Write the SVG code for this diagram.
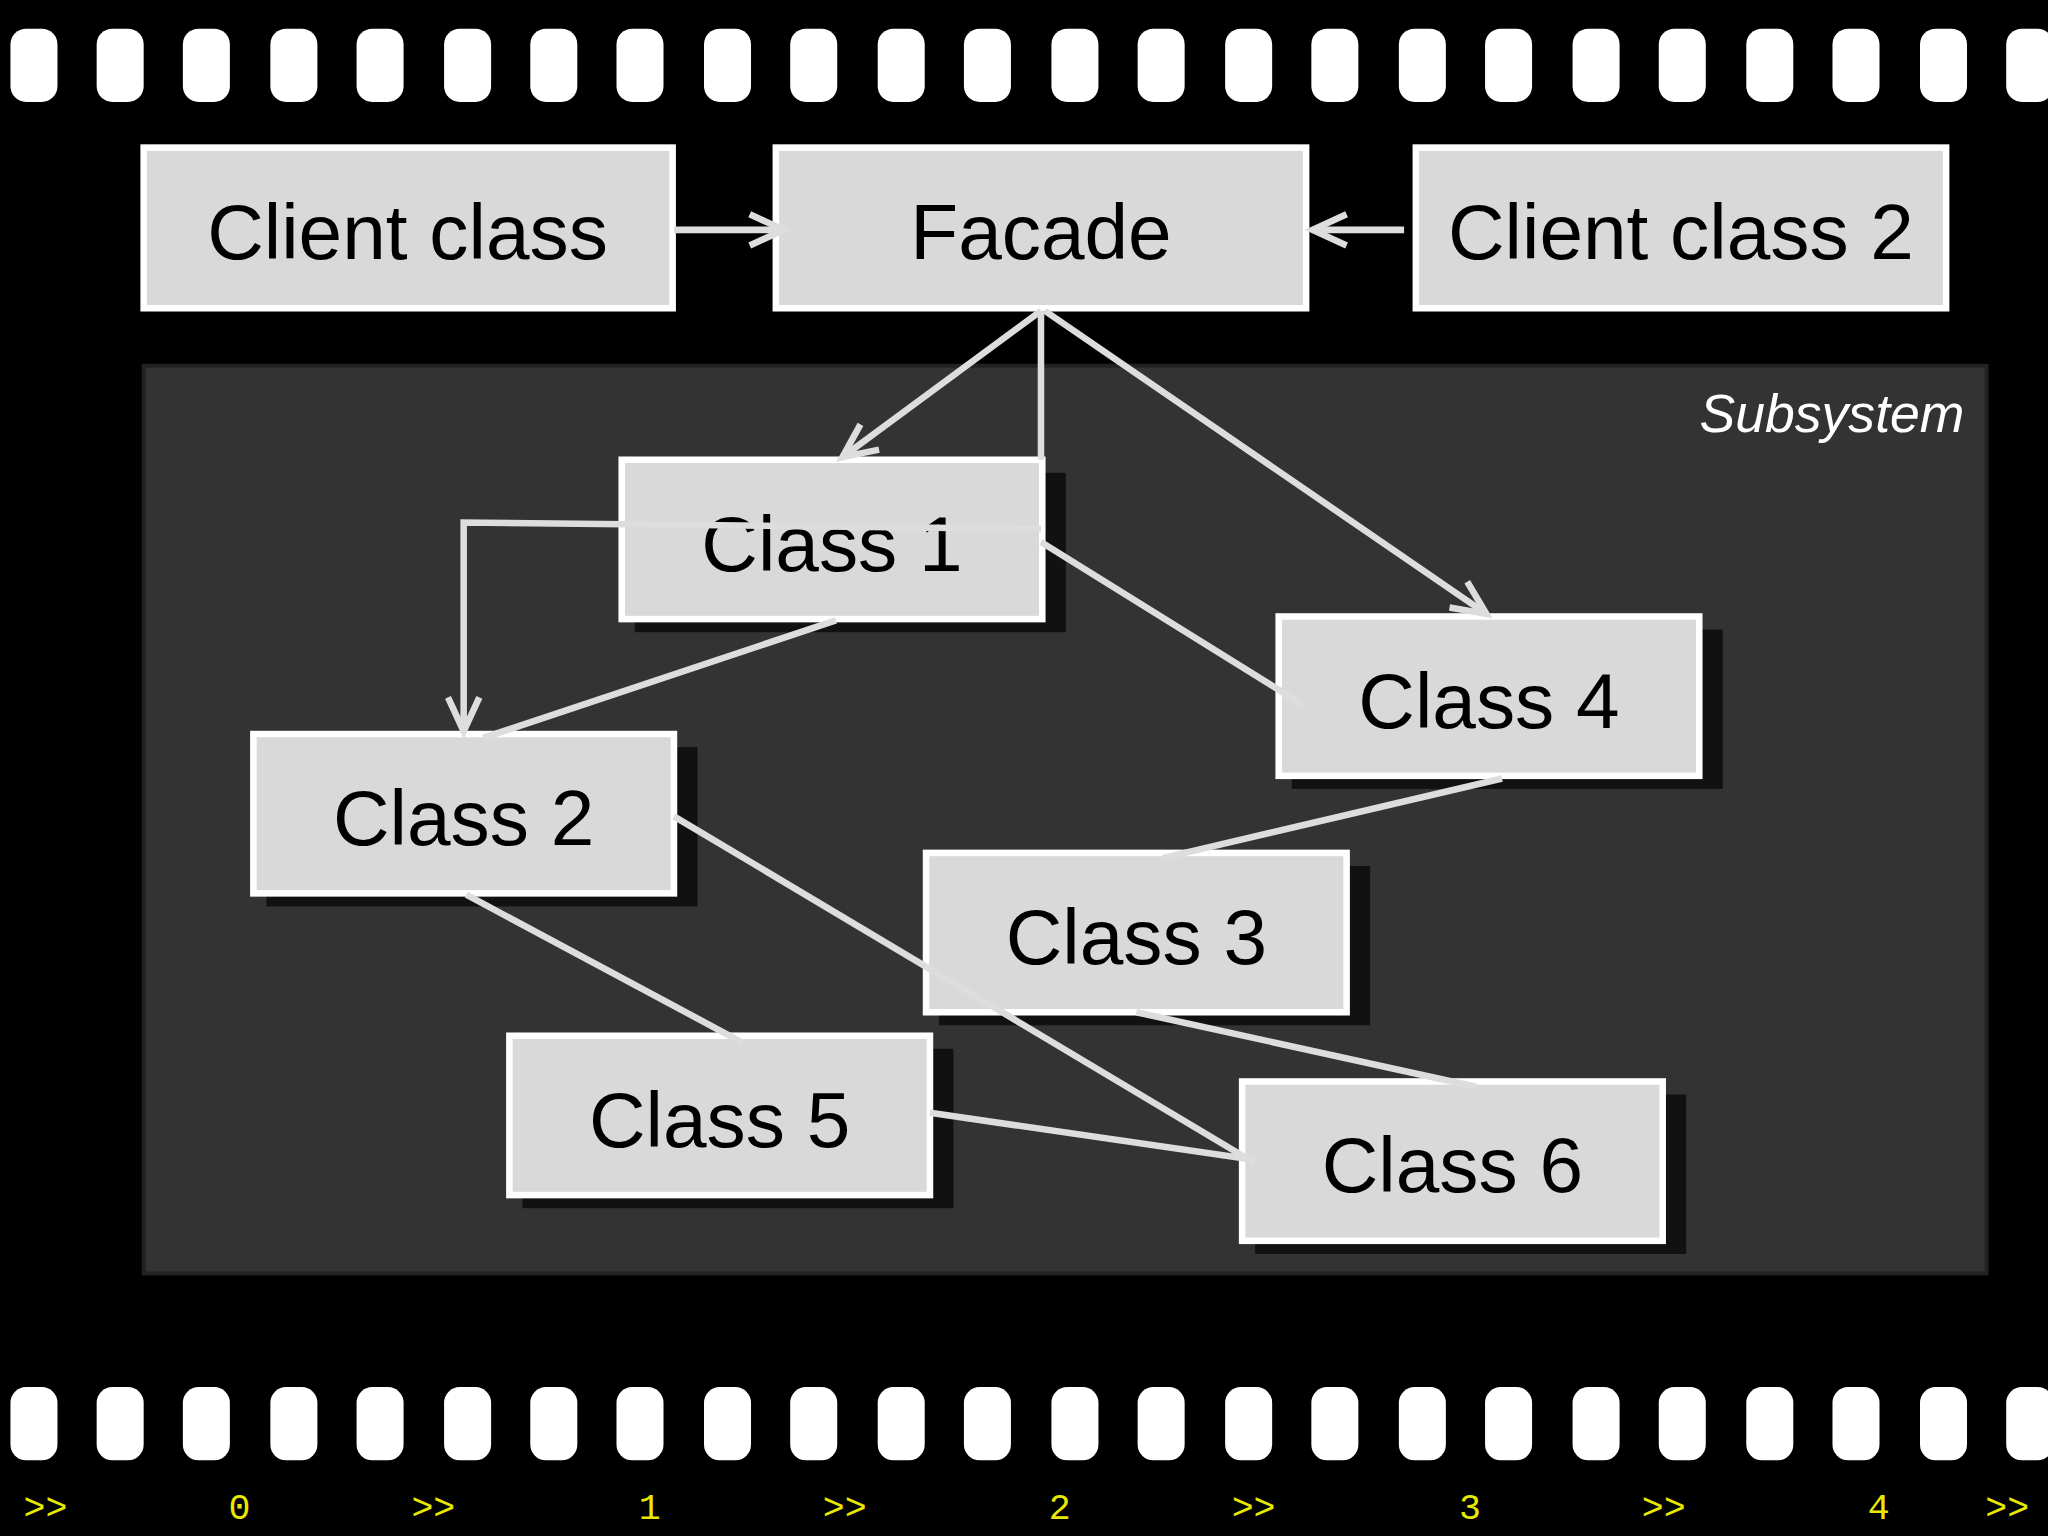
<svg xmlns="http://www.w3.org/2000/svg" width="2048" height="1536" viewBox="0 0 2048 1536">
<defs>
<style>
.hole{fill:#fff}
.box{fill:#d9d9d9;stroke:#fff;stroke-width:5}
.sh{fill:#111}
.lbl{font-family:"Liberation Sans",Arial,sans-serif;font-size:60px;fill:#000;text-anchor:middle}
.ln{stroke:#ddd;stroke-width:5;fill:none}
.ft{font-family:"Liberation Mono",monospace;font-size:28px;fill:#e8e800}
</style>
<marker id="arb" markerWidth="36" markerHeight="36" refX="30" refY="18" orient="auto" markerUnits="userSpaceOnUse" viewBox="0 0 36 36"><path d="M4,6 L30,18 L4,30" fill="none" stroke="#ddd" stroke-width="5"/></marker>
<rect id="h" width="36" height="56" rx="12" class="hole"/>
</defs>
<rect width="2048" height="1536" fill="#000"/>
<g transform="scale(1.30612)">
<g id="film">
<use href="#h" x="8" y="22"/><use href="#h" x="74" y="22"/><use href="#h" x="140" y="22"/><use href="#h" x="207" y="22"/><use href="#h" x="273" y="22"/><use href="#h" x="340" y="22"/><use href="#h" x="406" y="22"/><use href="#h" x="472" y="22"/><use href="#h" x="539" y="22"/><use href="#h" x="605" y="22"/><use href="#h" x="672" y="22"/><use href="#h" x="738" y="22"/><use href="#h" x="805" y="22"/><use href="#h" x="871" y="22"/><use href="#h" x="938" y="22"/><use href="#h" x="1004" y="22"/><use href="#h" x="1071" y="22"/><use href="#h" x="1137" y="22"/><use href="#h" x="1204" y="22"/><use href="#h" x="1270" y="22"/><use href="#h" x="1337" y="22"/><use href="#h" x="1403" y="22"/><use href="#h" x="1470" y="22"/><use href="#h" x="1536" y="22"/>
<use href="#h" x="8" y="1062"/><use href="#h" x="74" y="1062"/><use href="#h" x="140" y="1062"/><use href="#h" x="207" y="1062"/><use href="#h" x="273" y="1062"/><use href="#h" x="340" y="1062"/><use href="#h" x="406" y="1062"/><use href="#h" x="472" y="1062"/><use href="#h" x="539" y="1062"/><use href="#h" x="605" y="1062"/><use href="#h" x="672" y="1062"/><use href="#h" x="738" y="1062"/><use href="#h" x="805" y="1062"/><use href="#h" x="871" y="1062"/><use href="#h" x="938" y="1062"/><use href="#h" x="1004" y="1062"/><use href="#h" x="1071" y="1062"/><use href="#h" x="1137" y="1062"/><use href="#h" x="1204" y="1062"/><use href="#h" x="1270" y="1062"/><use href="#h" x="1337" y="1062"/><use href="#h" x="1403" y="1062"/><use href="#h" x="1470" y="1062"/><use href="#h" x="1536" y="1062"/>
<text class="ft" x="18" y="1163">&gt;&gt;</text><text class="ft" x="175" y="1163">0</text><text class="ft" x="315" y="1163">&gt;&gt;</text><text class="ft" x="489" y="1163">1</text><text class="ft" x="630" y="1163">&gt;&gt;</text><text class="ft" x="803" y="1163">2</text><text class="ft" x="943" y="1163">&gt;&gt;</text><text class="ft" x="1117" y="1163">3</text><text class="ft" x="1257" y="1163">&gt;&gt;</text><text class="ft" x="1430" y="1163">4</text><text class="ft" x="1520" y="1163">&gt;&gt;</text>
</g>
<g id="subsystem">
<rect x="110" y="280" width="1411" height="695" fill="#333" stroke="#222" stroke-width="3"/>
<text x="1504" y="331" font-family="Liberation Sans,Arial,sans-serif" font-size="41" font-style="italic" fill="#fff" text-anchor="end">Subsystem</text>
</g>
<g id="client1"><rect class="box" x="110" y="113" width="405" height="123"/><text class="lbl" x="312" y="198">Client class</text></g>
<g id="facade"><rect class="box" x="594" y="113" width="406" height="123"/><text class="lbl" x="797" y="198">Facade</text></g>
<g id="client2"><rect class="box" x="1084" y="113" width="406" height="123"/><text class="lbl" x="1287" y="198">Client class 2</text></g>
<g id="class1"><rect class="sh" x="486" y="362" width="330" height="122"/><rect class="box" x="476" y="352" width="322" height="122"/><text class="lbl" x="637" y="437">Class 1</text></g>
<g id="class4"><rect class="sh" x="989" y="482" width="330" height="122"/><rect class="box" x="979" y="472" width="322" height="122"/><text class="lbl" x="1140" y="557">Class 4</text></g>
<g id="class2"><rect class="sh" x="204" y="572" width="330" height="122"/><rect class="box" x="194" y="562" width="322" height="122"/><text class="lbl" x="355" y="647">Class 2</text></g>
<g id="class3"><rect class="sh" x="719" y="663" width="330" height="122"/><rect class="box" x="709" y="653" width="322" height="122"/><text class="lbl" x="870" y="738">Class 3</text></g>
<g id="class5"><rect class="sh" x="400" y="803" width="330" height="122"/><rect class="box" x="390" y="793" width="322" height="122"/><text class="lbl" x="551" y="878">Class 5</text></g>
<g id="class6"><rect class="sh" x="961" y="838" width="330" height="122"/><rect class="box" x="951" y="828" width="322" height="122"/><text class="lbl" x="1112" y="913">Class 6</text></g>
<g id="connectors">
<line class="ln" x1="516" y1="176" x2="600" y2="176" marker-end="url(#arb)"/>
<line class="ln" x1="1075" y1="176" x2="1005" y2="176" marker-end="url(#arb)"/>
<line class="ln" x1="797" y1="238" x2="645" y2="350" marker-end="url(#arb)"/>
<line class="ln" x1="797" y1="238" x2="797" y2="352"/>
<line class="ln" x1="800" y1="238" x2="1138" y2="470" marker-end="url(#arb)"/>
<polyline class="ln" points="797,405 355,400 355,560" marker-end="url(#arb)"/>
<line class="ln" x1="640" y1="475" x2="370" y2="565"/>
<line class="ln" x1="797" y1="415" x2="998" y2="540"/>
<line class="ln" x1="1150" y1="596" x2="890" y2="657"/>
<line class="ln" x1="516" y1="625" x2="960" y2="890"/>
<line class="ln" x1="357" y1="685" x2="568" y2="798"/>
<line class="ln" x1="870" y1="775" x2="1130" y2="832"/>
<line class="ln" x1="712" y1="852" x2="960" y2="888"/>
</g>
</g>
</svg>
